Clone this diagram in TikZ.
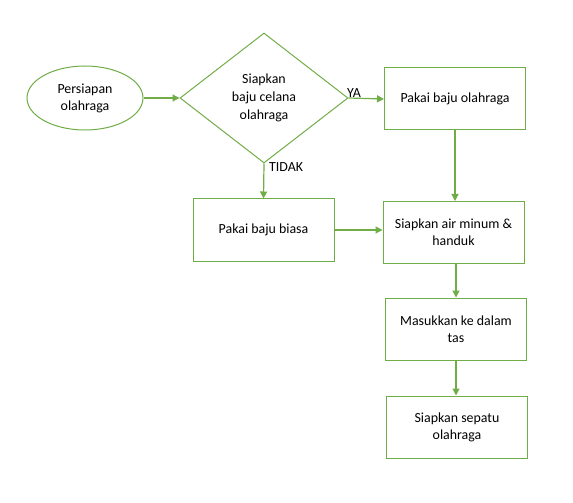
\documentclass[tikz,border=0pt]{standalone}
\usepackage{fontspec}
\setmainfont{Carlito}
\usetikzlibrary{shapes.geometric,arrows.meta}
\definecolor{lgreen}{HTML}{70AD47}
\tikzset{
  every node/.style={font=\fontsize{13.9bp}{17bp}\selectfont, text=black},
  proc/.style={draw=lgreen, line width=1bp, minimum width=141bp, minimum height=62bp, align=center, inner sep=0pt},
  startnode/.style={draw=lgreen, line width=1bp, ellipse, minimum width=116bp, minimum height=64bp, align=center, inner sep=0pt},
  decision/.style={draw=lgreen, line width=1bp, diamond, minimum width=168bp, minimum height=130bp, align=center, inner sep=0pt},
  flow/.style={draw=lgreen, line width=1.2bp, -{Triangle[length=7bp,width=7bp]}},
  lbl/.style={inner sep=0pt, font=\fontsize{13.9bp}{16bp}\selectfont}
}
\begin{document}
\begin{tikzpicture}[x=1bp,y=-1bp]
\useasboundingbox (0,0) rectangle (573,503);
\node[startnode] (start) at (85,98) {Persiapan\\olahraga};
\node[decision] (dec) at (264,98) {Siapkan\\[1bp]baju celana\\[1bp]olahraga};
\node[proc] (olah) at (455,99) {Pakai baju olahraga};
\node[proc] (biasa) at (263.5,230) {Pakai baju biasa};
\node[proc] (air) at (453.5,232.5) {Siapkan air minum \&\\handuk};
\node[proc] (tas) at (456,329) {Masukkan ke dalam\\tas};
\node[proc] (sepatu) at (457,427) {Siapkan sepatu\\olahraga};

\draw[flow] (start.east) -- (dec.west);
\draw[flow] (dec.east) -- (olah.west);
\draw[flow] (dec.south) -- (biasa.north);
\draw[flow] (biasa.east) -- (biasa.east -| air.west);
\draw[flow] (olah.south) -- (olah.south |- air.north);
\draw[flow] (air.south -| tas.north) -- (tas.north);
\draw[flow] (tas.south) -- (tas.south |- sepatu.north);

\node[lbl, anchor=west] (ya) at (347,93) {YA};
\node[lbl, anchor=west] (tidak) at (269,167) {TIDAK};
\end{tikzpicture}
\end{document}
